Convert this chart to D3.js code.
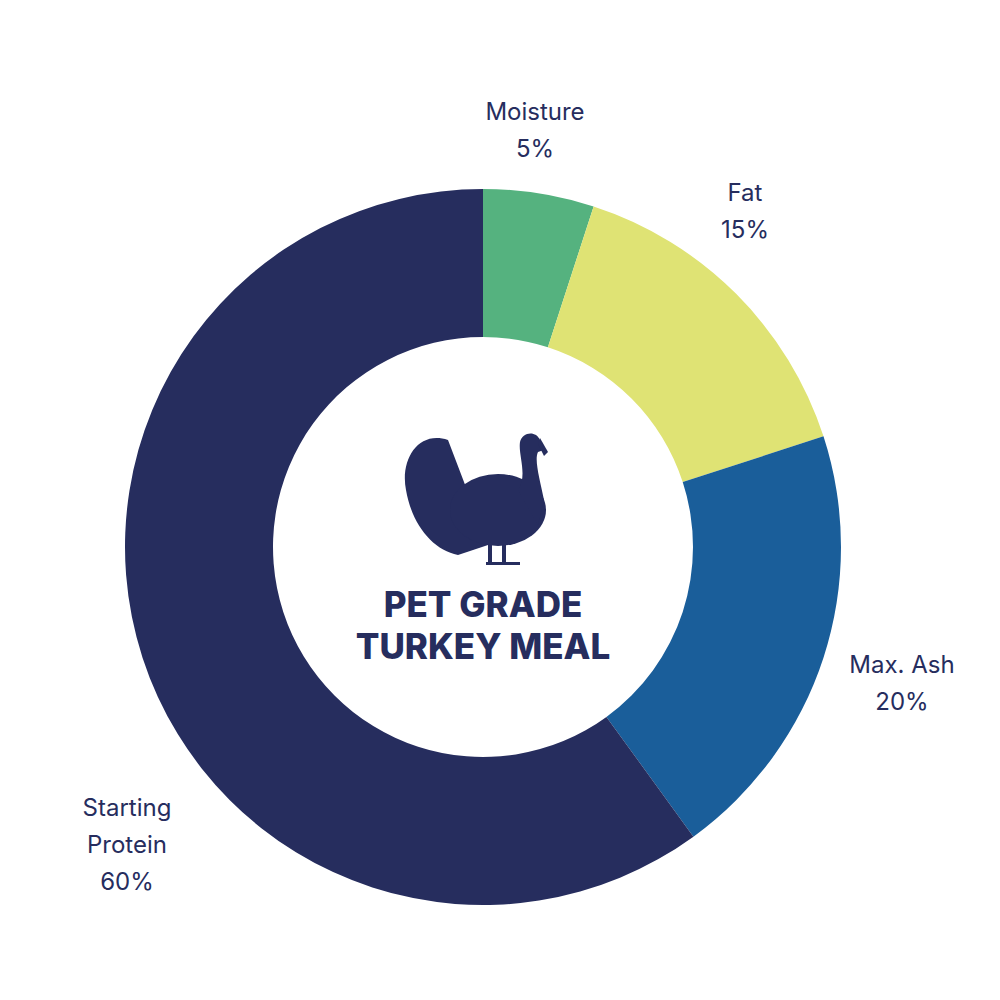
<!DOCTYPE html>
<html><head><meta charset="utf-8">
<script src="https://cdn.jsdelivr.net/npm/d3@7"></script>
<style>body{margin:0;background:#fff}</style>
</head><body><div id="chart"></div>
<script>
const categories = ["Moisture", "Fat", "Max. Ash", "Starting Protein"];
const values = [5, 15, 20, 60];
const labelLines = [["Moisture", "5%"], ["Fat", "15%"], ["Max. Ash", "20%"], ["Starting", "Protein", "60%"]];
const colors = ["#55b27f", "#dfe374", "#1a5e9a", "#262d5e"];
const labelPos = [[535, 112], [745, 193], [902, 665], [127, 808]];

const cx = 483, cy = 547, outerR = 358, innerR = 210;
const svg = d3.select("#chart").append("svg").attr("width", 1000).attr("height", 1000);
const g = svg.append("g").attr("transform", `translate(${cx},${cy})`);

const pie = d3.pie().sort(null)(values);
const arc = d3.arc().innerRadius(innerR).outerRadius(outerR);
g.selectAll("path.slice").data(pie).enter().append("path")
    .attr("class", "slice")
    .attr("d", arc)
    .style("fill", (d, i) => colors[i]);

// labels
labelLines.forEach((lines, i) => {
    const t = svg.append("text")
        .attr("text-anchor", "middle")
        .attr("font-family", "Inter, 'Open Sans', sans-serif")
        .attr("font-size", 24)
        .attr("fill", "#262d5e");
    lines.forEach((l, j) => {
        t.append("tspan").attr("x", labelPos[i][0]).attr("y", labelPos[i][1] + j * 37 + 8).text(l);
    });
});

// turkey silhouette
const tk = svg.append("g").attr("fill", "#262d5e").attr("transform", "translate(478,500)");
tk.append("path").attr("d",
    "M-30,-60 C-60,-70 -78,-40 -72,-10 C-66,25 -45,50 -20,55 L10,45 Z");
tk.append("ellipse").attr("cx", 20).attr("cy", 10).attr("rx", 48).attr("ry", 36);
tk.append("path").attr("d",
    "M40,-10 C50,-25 40,-45 42,-58 C44,-68 58,-70 62,-60 L66,-50 L60,-48 C56,-40 62,-20 66,0 L60,25 Z");
tk.append("path").attr("d", "M62,-62 L70,-48 L66,-44 L60,-56 Z");
tk.append("rect").attr("x", 10).attr("y", 40).attr("width", 4).attr("height", 24);
tk.append("rect").attr("x", 24).attr("y", 40).attr("width", 4).attr("height", 24);
tk.append("rect").attr("x", 8).attr("y", 62).attr("width", 34).attr("height", 3);

const title = svg.append("text")
    .attr("text-anchor", "middle")
    .attr("font-family", "Inter, 'Open Sans', sans-serif")
    .attr("font-weight", 800)
    .attr("font-size", 35)
    .attr("fill", "#262d5e");
title.append("tspan").attr("x", cx).attr("y", 617).text("PET GRADE");
title.append("tspan").attr("x", cx).attr("y", 659).text("TURKEY MEAL");
</script></body></html>
